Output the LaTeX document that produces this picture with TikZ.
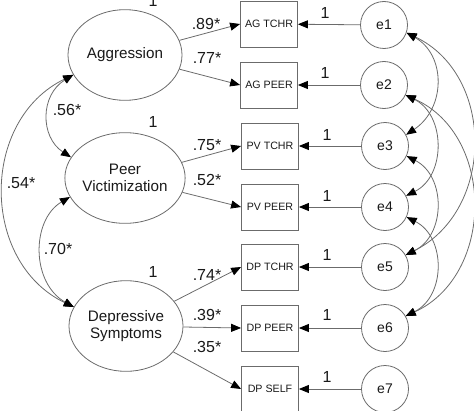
\documentclass[tikz,border=0pt]{standalone}
\usepackage{fontspec}
\setmainfont{Liberation Sans}
\usetikzlibrary{arrows.meta,shapes.geometric}
\begin{document}
\begin{tikzpicture}[x=0.75pt,y=0.75pt,
  lc/.style={draw=black!58, line width=0.6pt},
  tip/.style={lc,-{Triangle[length=7.5pt,width=6pt,color=black]}},
  dtip/.style={lc,{Triangle[length=7.5pt,width=6pt,color=black]}-{Triangle[length=7.5pt,width=6pt,color=black]}},
  latent/.style={ellipse, lc, minimum width=85.5pt, minimum height=68pt, inner sep=0pt, align=center, text=black!90, font=\fontsize{11.4}{12.3}\selectfont},
  obs/.style={rectangle, lc, minimum width=42.75pt, minimum height=34.5pt, inner sep=0pt, text=black!90, font=\fontsize{8}{9}\selectfont},
  err/.style={circle, lc, minimum size=35.25pt, inner sep=0pt, text=black!90, font=\fontsize{10.5}{12}\selectfont},
  coef/.style={inner sep=0pt, text=black!90, font=\fontsize{12}{14}\selectfont},
]
\useasboundingbox (0,0) rectangle (474,-410);

% latent variables
\node[latent] (agg) at (125,-55) {Aggression};
\node[latent] (pv) at (125,-178) {Peer\\Victimization};
\node[latent] (ds) at (126,-326) {Depressive\\Symptoms};

% observed
\node[obs] (ag1) at (269,-24) {AG TCHR};
\node[obs] (ag2) at (269,-85) {AG PEER};
\node[obs] (pv1) at (270,-146) {PV TCHR};
\node[obs] (pv2) at (270,-207) {PV PEER};
\node[obs] (dp1) at (270,-267) {DP TCHR};
\node[obs] (dp2) at (270,-328) {DP PEER};
\node[obs] (dp3) at (270,-389) {DP SELF};

% errors
\node[err] (e1) at (384,-25) {e1};
\node[err] (e2) at (384,-85) {e2};
\node[err] (e3) at (385,-146) {e3};
\node[err] (e4) at (385,-207) {e4};
\node[err] (e5) at (385,-267) {e5};
\node[err] (e6) at (385,-328) {e6};
\node[err] (e7) at (385,-389) {e7};

% loadings
\draw[tip] (agg) -- (ag1.west);
\draw[tip] (agg) -- (ag2.west);
\draw[tip] (pv) -- (pv1.west);
\draw[tip] (pv) -- (pv2.west);
\draw[tip] (ds) -- (dp1.west);
\draw[tip] (ds) -- (dp2.west);
\draw[tip] (ds) -- (dp3.west);

\node[coef] (l1) at (206,-24) {.89*};
\node[coef] (l2) at (207,-58) {.77*};
\node[coef] (l3) at (207,-145) {.75*};
\node[coef] (l4) at (207,-180) {.52*};
\node[coef] (l5) at (207,-275) {.74*};
\node[coef] (l6) at (207,-315) {.39*};
\node[coef] (l7) at (207,-347) {.35*};

% variance labels of latents
\node[coef] (v1) at (153,-1) {1};
\node[coef] (v2) at (153,-122) {1};
\node[coef] (v3) at (153,-272) {1};

% error paths
\draw[tip] (e1) -- (ag1);
\draw[tip] (e2) -- (ag2);
\draw[tip] (e3) -- (pv1);
\draw[tip] (e4) -- (pv2);
\draw[tip] (e5) -- (dp1);
\draw[tip] (e6) -- (dp2);
\draw[tip] (e7) -- (dp3);

\node[coef] (w1) at (325,-13) {1};
\node[coef] (w2) at (325,-73) {1};
\node[coef] (w3) at (327,-135) {1};
\node[coef] (w4) at (327,-196) {1};
\node[coef] (w5) at (327,-255) {1};
\node[coef] (w6) at (327,-315) {1};
\node[coef] (w7) at (327,-377) {1};

% latent covariances
\draw[dtip] (agg.201) .. controls (40,-95) and (40,-137) .. (pv.159);
\draw[dtip] (agg.201) .. controls (-20,-120) and (-20,-262) .. (ds.160);
\draw[dtip] (pv.199) .. controls (31,-220) and (31,-283) .. (ds.160);
\node[coef] (c1) at (67,-110) {.56*};
\node[coef] (c2) at (21,-183) {.54*};
\node[coef] (c3) at (58,-249) {.70*};

% error covariances
\draw[dtip] (e1.-19) .. controls (446,-55) and (446,-108) .. (e3.28);
\draw[dtip] (e2.-25) .. controls (446,-115) and (446,-176) .. (e4.28);
\draw[dtip] (e3.-25) .. controls (446,-176) and (446,-235) .. (e5.30);
\draw[dtip] (e4.-25) .. controls (446,-237) and (446,-296) .. (e6.30);
\draw[dtip] (e1.-19) .. controls (495,-75) and (495,-210) .. (e5.30);
\draw[dtip] (e2.-25) .. controls (495,-135) and (495,-275) .. (e6.30);
\end{tikzpicture}
\end{document}
